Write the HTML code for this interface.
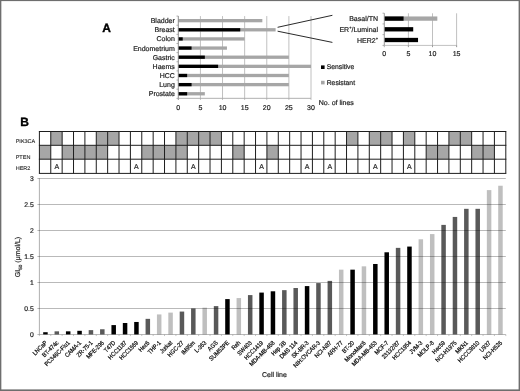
<!DOCTYPE html>
<html><head><meta charset="utf-8"><title>Figure</title>
<style>
html,body{margin:0;padding:0;background:#fff;}
body{width:520px;height:391px;overflow:hidden;}
svg{display:block;font-family:"Liberation Sans",sans-serif;text-rendering:geometricPrecision;}
text{stroke:#222;stroke-width:0.2px;}
text.s{fill:#222;stroke-width:0.1px;}
text.r{fill:#111;stroke:#111;stroke-width:0.22px;}
</style></head><body>
<svg width="520" height="391" viewBox="0 0 520 391">
<rect x="0" y="0" width="520" height="391" fill="#fff"/>
<g id="panelA">
<line x1="200.42" y1="16.08" x2="200.42" y2="99.94" stroke="#ababab" stroke-width="0.75"/>
<line x1="222.53" y1="16.08" x2="222.53" y2="99.94" stroke="#ababab" stroke-width="0.75"/>
<line x1="244.65" y1="16.08" x2="244.65" y2="99.94" stroke="#ababab" stroke-width="0.75"/>
<line x1="266.77" y1="16.08" x2="266.77" y2="99.94" stroke="#ababab" stroke-width="0.75"/>
<line x1="288.88" y1="16.08" x2="288.88" y2="99.94" stroke="#ababab" stroke-width="0.75"/>
<line x1="311.00" y1="16.08" x2="311.00" y2="99.94" stroke="#ababab" stroke-width="0.75"/>
<rect x="178.30" y="19.00" width="84.04" height="3.3" fill="#a6a6a6"/>
<text x="174.8" y="23.15" font-size="7" text-anchor="end" fill="#222">Bladder</text>
<rect x="178.30" y="28.14" width="97.31" height="3.3" fill="#a6a6a6"/>
<rect x="178.30" y="28.14" width="61.93" height="3.3" fill="#000"/>
<text x="174.8" y="32.29" font-size="7" text-anchor="end" fill="#222">Breast</text>
<rect x="178.30" y="37.28" width="66.35" height="3.3" fill="#a6a6a6"/>
<rect x="178.30" y="37.28" width="4.42" height="3.3" fill="#000"/>
<text x="174.8" y="41.43" font-size="7" text-anchor="end" fill="#222">Colon</text>
<rect x="178.30" y="46.42" width="48.66" height="3.3" fill="#a6a6a6"/>
<rect x="178.30" y="46.42" width="13.27" height="3.3" fill="#000"/>
<text x="174.8" y="50.57" font-size="7" text-anchor="end" fill="#222">Endometrium</text>
<rect x="178.30" y="55.56" width="110.58" height="3.3" fill="#a6a6a6"/>
<rect x="178.30" y="55.56" width="26.54" height="3.3" fill="#000"/>
<text x="174.8" y="59.71" font-size="7" text-anchor="end" fill="#222">Gastric</text>
<rect x="178.30" y="64.70" width="132.70" height="3.3" fill="#a6a6a6"/>
<rect x="178.30" y="64.70" width="39.81" height="3.3" fill="#000"/>
<text x="174.8" y="68.85" font-size="7" text-anchor="end" fill="#222">Haems</text>
<rect x="178.30" y="73.84" width="110.58" height="3.3" fill="#a6a6a6"/>
<rect x="178.30" y="73.84" width="8.85" height="3.3" fill="#000"/>
<text x="174.8" y="77.99" font-size="7" text-anchor="end" fill="#222">HCC</text>
<rect x="178.30" y="82.98" width="110.58" height="3.3" fill="#a6a6a6"/>
<rect x="178.30" y="82.98" width="13.27" height="3.3" fill="#000"/>
<text x="174.8" y="87.13" font-size="7" text-anchor="end" fill="#222">Lung</text>
<rect x="178.30" y="92.12" width="26.54" height="3.3" fill="#a6a6a6"/>
<rect x="178.30" y="92.12" width="8.85" height="3.3" fill="#000"/>
<text x="174.8" y="96.27" font-size="7" text-anchor="end" fill="#222">Prostate</text>
<line x1="178.30" y1="16.08" x2="178.30" y2="99.94" stroke="#808080" stroke-width="0.9"/>
<line x1="178.30" y1="98.34" x2="311.00" y2="98.34" stroke="#a8a8a8" stroke-width="0.9"/>
<line x1="176.50" y1="16.08" x2="178.30" y2="16.08" stroke="#8c8c8c" stroke-width="0.7"/>
<line x1="176.50" y1="25.22" x2="178.30" y2="25.22" stroke="#8c8c8c" stroke-width="0.7"/>
<line x1="176.50" y1="34.36" x2="178.30" y2="34.36" stroke="#8c8c8c" stroke-width="0.7"/>
<line x1="176.50" y1="43.50" x2="178.30" y2="43.50" stroke="#8c8c8c" stroke-width="0.7"/>
<line x1="176.50" y1="52.64" x2="178.30" y2="52.64" stroke="#8c8c8c" stroke-width="0.7"/>
<line x1="176.50" y1="61.78" x2="178.30" y2="61.78" stroke="#8c8c8c" stroke-width="0.7"/>
<line x1="176.50" y1="70.92" x2="178.30" y2="70.92" stroke="#8c8c8c" stroke-width="0.7"/>
<line x1="176.50" y1="80.06" x2="178.30" y2="80.06" stroke="#8c8c8c" stroke-width="0.7"/>
<line x1="176.50" y1="89.20" x2="178.30" y2="89.20" stroke="#8c8c8c" stroke-width="0.7"/>
<line x1="176.50" y1="98.34" x2="178.30" y2="98.34" stroke="#8c8c8c" stroke-width="0.7"/>
<text x="178.30" y="109.5" font-size="7" text-anchor="middle" fill="#222">0</text>
<text x="200.42" y="109.5" font-size="7" text-anchor="middle" fill="#222">5</text>
<text x="222.53" y="109.5" font-size="7" text-anchor="middle" fill="#222">10</text>
<text x="244.65" y="109.5" font-size="7" text-anchor="middle" fill="#222">15</text>
<text x="266.77" y="109.5" font-size="7" text-anchor="middle" fill="#222">20</text>
<text x="288.88" y="109.5" font-size="7" text-anchor="middle" fill="#222">25</text>
<text x="311.00" y="109.5" font-size="7" text-anchor="middle" fill="#222">30</text>
<text x="318.8" y="105.4" font-size="7" fill="#222">No. of lines</text>
<rect x="321" y="65.4" width="3.6" height="3.6" fill="#000"/>
<text x="326.7" y="69.4" font-size="6.8" fill="#222">Sensitive</text>
<rect x="321" y="80.8" width="3.6" height="3.6" fill="#a6a6a6"/>
<text x="326.7" y="84.7" font-size="6.8" fill="#222">Resistant</text>
<line x1="277.6" y1="27.3" x2="332.4" y2="15.3" stroke="#2a2a2a" stroke-width="1"/>
<line x1="277.6" y1="31.2" x2="332.4" y2="42.4" stroke="#2a2a2a" stroke-width="1"/>
<line x1="408.40" y1="13.3" x2="408.40" y2="47" stroke="#ababab" stroke-width="0.75"/>
<line x1="432.50" y1="13.3" x2="432.50" y2="47" stroke="#ababab" stroke-width="0.75"/>
<line x1="456.60" y1="13.3" x2="456.60" y2="47" stroke="#ababab" stroke-width="0.75"/>
<rect x="384.30" y="16.45" width="53.02" height="4.3" fill="#a6a6a6"/>
<rect x="384.30" y="16.45" width="19.28" height="4.3" fill="#000"/>
<text x="378" y="21.10" font-size="7" text-anchor="end" fill="#222">Basal/TN</text>
<rect x="384.30" y="27.15" width="28.92" height="4.3" fill="#000"/>
<text x="378" y="31.80" font-size="7" text-anchor="end" fill="#222">ER<tspan font-size="4" dy="-2.6">+</tspan><tspan dy="2.6">/Luminal</tspan></text>
<rect x="384.30" y="37.85" width="33.74" height="4.3" fill="#000"/>
<text x="378" y="42.50" font-size="7" text-anchor="end" fill="#222">HER2<tspan font-size="4" dy="-2.6">+</tspan></text>
<line x1="384.30" y1="13.2" x2="384.30" y2="45.4" stroke="#8c8c8c" stroke-width="0.9"/>
<line x1="384.30" y1="45.4" x2="456.60" y2="45.4" stroke="#ababab" stroke-width="0.75"/>
<line x1="382.50" y1="13.20" x2="384.30" y2="13.20" stroke="#8c8c8c" stroke-width="0.7"/>
<line x1="382.50" y1="23.93" x2="384.30" y2="23.93" stroke="#8c8c8c" stroke-width="0.7"/>
<line x1="382.50" y1="34.67" x2="384.30" y2="34.67" stroke="#8c8c8c" stroke-width="0.7"/>
<line x1="382.50" y1="45.40" x2="384.30" y2="45.40" stroke="#8c8c8c" stroke-width="0.7"/>
<line x1="384.30" y1="45.4" x2="384.30" y2="47.2" stroke="#8c8c8c" stroke-width="0.7"/>
<text x="384.30" y="56.1" font-size="7" text-anchor="middle" fill="#222">0</text>
<line x1="408.40" y1="45.4" x2="408.40" y2="47.2" stroke="#8c8c8c" stroke-width="0.7"/>
<text x="408.40" y="56.1" font-size="7" text-anchor="middle" fill="#222">5</text>
<line x1="432.50" y1="45.4" x2="432.50" y2="47.2" stroke="#8c8c8c" stroke-width="0.7"/>
<text x="432.50" y="56.1" font-size="7" text-anchor="middle" fill="#222">10</text>
<line x1="456.60" y1="45.4" x2="456.60" y2="47.2" stroke="#8c8c8c" stroke-width="0.7"/>
<text x="456.60" y="56.1" font-size="7" text-anchor="middle" fill="#222">15</text>
<text x="102.3" y="32" font-size="12" font-weight="bold" style="fill:#000;stroke:#000;stroke-width:0.35px">A</text>
</g>
<g id="panelB">
<text x="20.2" y="125.7" font-size="12" font-weight="bold" style="fill:#000;stroke:#000;stroke-width:0.35px">B</text>
<rect x="50.78" y="131.5" width="11.38" height="13.80" fill="#a6a6a6"/>
<rect x="96.28" y="131.5" width="11.38" height="13.80" fill="#a6a6a6"/>
<rect x="107.65" y="131.5" width="11.38" height="13.80" fill="#a6a6a6"/>
<rect x="175.91" y="131.5" width="11.38" height="13.80" fill="#a6a6a6"/>
<rect x="187.28" y="131.5" width="11.38" height="13.80" fill="#a6a6a6"/>
<rect x="198.66" y="131.5" width="11.38" height="13.80" fill="#a6a6a6"/>
<rect x="210.03" y="131.5" width="11.38" height="13.80" fill="#a6a6a6"/>
<rect x="346.54" y="131.5" width="11.38" height="13.80" fill="#a6a6a6"/>
<rect x="369.29" y="131.5" width="11.38" height="13.80" fill="#a6a6a6"/>
<rect x="380.67" y="131.5" width="11.38" height="13.80" fill="#a6a6a6"/>
<rect x="403.42" y="131.5" width="11.38" height="13.80" fill="#a6a6a6"/>
<rect x="448.92" y="131.5" width="11.38" height="13.80" fill="#a6a6a6"/>
<rect x="460.30" y="131.5" width="11.38" height="13.80" fill="#a6a6a6"/>
<rect x="39.40" y="145.3" width="11.38" height="13.90" fill="#a6a6a6"/>
<rect x="62.15" y="145.3" width="11.38" height="13.90" fill="#a6a6a6"/>
<rect x="73.53" y="145.3" width="11.38" height="13.90" fill="#a6a6a6"/>
<rect x="84.90" y="145.3" width="11.38" height="13.90" fill="#a6a6a6"/>
<rect x="96.28" y="145.3" width="11.38" height="13.90" fill="#a6a6a6"/>
<rect x="141.78" y="145.3" width="11.38" height="13.90" fill="#a6a6a6"/>
<rect x="153.16" y="145.3" width="11.38" height="13.90" fill="#a6a6a6"/>
<rect x="164.53" y="145.3" width="11.38" height="13.90" fill="#a6a6a6"/>
<rect x="175.91" y="145.3" width="11.38" height="13.90" fill="#a6a6a6"/>
<rect x="232.79" y="145.3" width="11.38" height="13.90" fill="#a6a6a6"/>
<rect x="266.91" y="145.3" width="11.38" height="13.90" fill="#a6a6a6"/>
<rect x="426.17" y="145.3" width="11.38" height="13.90" fill="#a6a6a6"/>
<rect x="437.55" y="145.3" width="11.38" height="13.90" fill="#a6a6a6"/>
<rect x="471.67" y="145.3" width="11.38" height="13.90" fill="#a6a6a6"/>
<rect x="483.05" y="145.3" width="11.38" height="13.90" fill="#a6a6a6"/>
<text x="56.76" y="169.4" font-size="7" text-anchor="middle" fill="#222">A</text>
<text x="136.39" y="169.4" font-size="7" text-anchor="middle" fill="#222">A</text>
<text x="193.27" y="169.4" font-size="7" text-anchor="middle" fill="#222">A</text>
<text x="261.52" y="169.4" font-size="7" text-anchor="middle" fill="#222">A</text>
<text x="307.03" y="169.4" font-size="7" text-anchor="middle" fill="#222">A</text>
<text x="329.78" y="169.4" font-size="7" text-anchor="middle" fill="#222">A</text>
<text x="375.28" y="169.4" font-size="7" text-anchor="middle" fill="#222">A</text>
<text x="409.41" y="169.4" font-size="7" text-anchor="middle" fill="#222">A</text>
<path d="M39.40 131.5V173.4M50.78 131.5V173.4M62.15 131.5V173.4M73.53 131.5V173.4M84.90 131.5V173.4M96.28 131.5V173.4M107.65 131.5V173.4M119.03 131.5V173.4M130.40 131.5V173.4M141.78 131.5V173.4M153.16 131.5V173.4M164.53 131.5V173.4M175.91 131.5V173.4M187.28 131.5V173.4M198.66 131.5V173.4M210.03 131.5V173.4M221.41 131.5V173.4M232.79 131.5V173.4M244.16 131.5V173.4M255.54 131.5V173.4M266.91 131.5V173.4M278.29 131.5V173.4M289.66 131.5V173.4M301.04 131.5V173.4M312.41 131.5V173.4M323.79 131.5V173.4M335.17 131.5V173.4M346.54 131.5V173.4M357.92 131.5V173.4M369.29 131.5V173.4M380.67 131.5V173.4M392.04 131.5V173.4M403.42 131.5V173.4M414.80 131.5V173.4M426.17 131.5V173.4M437.55 131.5V173.4M448.92 131.5V173.4M460.30 131.5V173.4M471.67 131.5V173.4M483.05 131.5V173.4M494.42 131.5V173.4M505.80 131.5V173.4M38.90 131.5H506.30M38.90 145.3H506.30M38.90 159.2H506.30M38.90 173.4H506.30" stroke="#1e1e1e" stroke-width="1" fill="none"/>
<text x="15.7" y="142.6" font-size="5.5" class="s">PIK3CA</text>
<text x="15.7" y="158.5" font-size="5.5" class="s">PTEN</text>
<text x="15.7" y="170.1" font-size="5.5" class="s">HER2</text>
<line x1="39.40" y1="178.45" x2="39.40" y2="334.45" stroke="#9a9a9a" stroke-width="0.8"/>
<rect x="43.19" y="332.21" width="4.5" height="2.24" fill="#000"/>
<rect x="54.56" y="331.33" width="4.5" height="3.12" fill="#595959"/>
<rect x="65.94" y="331.33" width="4.5" height="3.12" fill="#000"/>
<rect x="77.31" y="330.81" width="4.5" height="3.64" fill="#000"/>
<rect x="88.69" y="330.13" width="4.5" height="4.32" fill="#595959"/>
<rect x="100.07" y="329.25" width="4.5" height="5.20" fill="#595959"/>
<rect x="111.44" y="325.09" width="4.5" height="9.36" fill="#000"/>
<rect x="122.82" y="323.01" width="4.5" height="11.44" fill="#000"/>
<rect x="134.19" y="321.97" width="4.5" height="12.48" fill="#000"/>
<rect x="145.57" y="318.85" width="4.5" height="15.60" fill="#595959"/>
<rect x="156.94" y="314.43" width="4.5" height="20.02" fill="#bfbfbf"/>
<rect x="168.32" y="312.61" width="4.5" height="21.84" fill="#bfbfbf"/>
<rect x="179.70" y="311.57" width="4.5" height="22.88" fill="#595959"/>
<rect x="191.07" y="308.45" width="4.5" height="26.00" fill="#595959"/>
<rect x="202.45" y="307.67" width="4.5" height="26.78" fill="#bfbfbf"/>
<rect x="213.82" y="306.11" width="4.5" height="28.34" fill="#595959"/>
<rect x="225.20" y="299.09" width="4.5" height="35.36" fill="#000"/>
<rect x="236.57" y="298.05" width="4.5" height="36.40" fill="#bfbfbf"/>
<rect x="247.95" y="295.09" width="4.5" height="39.36" fill="#595959"/>
<rect x="259.32" y="292.59" width="4.5" height="41.86" fill="#000"/>
<rect x="270.70" y="291.29" width="4.5" height="43.16" fill="#000"/>
<rect x="282.08" y="290.15" width="4.5" height="44.30" fill="#595959"/>
<rect x="293.45" y="288.01" width="4.5" height="46.44" fill="#595959"/>
<rect x="304.83" y="286.09" width="4.5" height="48.36" fill="#000"/>
<rect x="316.20" y="283.07" width="4.5" height="51.38" fill="#595959"/>
<rect x="327.58" y="280.89" width="4.5" height="53.56" fill="#595959"/>
<rect x="338.95" y="269.66" width="4.5" height="64.79" fill="#bfbfbf"/>
<rect x="350.33" y="269.66" width="4.5" height="64.79" fill="#000"/>
<rect x="361.70" y="266.33" width="4.5" height="68.12" fill="#bfbfbf"/>
<rect x="373.08" y="263.99" width="4.5" height="70.46" fill="#000"/>
<rect x="384.46" y="252.29" width="4.5" height="82.16" fill="#000"/>
<rect x="395.83" y="247.87" width="4.5" height="86.58" fill="#595959"/>
<rect x="407.21" y="246.57" width="4.5" height="87.88" fill="#000"/>
<rect x="418.58" y="239.29" width="4.5" height="95.16" fill="#bfbfbf"/>
<rect x="429.96" y="234.09" width="4.5" height="100.36" fill="#bfbfbf"/>
<rect x="441.33" y="224.89" width="4.5" height="109.56" fill="#595959"/>
<rect x="452.71" y="216.93" width="4.5" height="117.52" fill="#595959"/>
<rect x="464.09" y="208.82" width="4.5" height="125.63" fill="#595959"/>
<rect x="475.46" y="208.82" width="4.5" height="125.63" fill="#595959"/>
<rect x="486.84" y="190.10" width="4.5" height="144.35" fill="#bfbfbf"/>
<rect x="498.21" y="185.73" width="4.5" height="148.72" fill="#bfbfbf"/>
<line x1="37.4" y1="334.45" x2="505.80" y2="334.45" stroke="#a2a2a2" stroke-width="0.8" style="mix-blend-mode:multiply"/>
<text x="33.7" y="336.90" font-size="6.8" text-anchor="end" fill="#222">0</text>
<line x1="37.4" y1="308.45" x2="505.80" y2="308.45" stroke="#a2a2a2" stroke-width="0.8" style="mix-blend-mode:multiply"/>
<text x="33.7" y="310.90" font-size="6.8" text-anchor="end" fill="#222">0.5</text>
<line x1="37.4" y1="282.45" x2="505.80" y2="282.45" stroke="#a2a2a2" stroke-width="0.8" style="mix-blend-mode:multiply"/>
<text x="33.7" y="284.90" font-size="6.8" text-anchor="end" fill="#222">1</text>
<line x1="37.4" y1="256.45" x2="505.80" y2="256.45" stroke="#a2a2a2" stroke-width="0.8" style="mix-blend-mode:multiply"/>
<text x="33.7" y="258.90" font-size="6.8" text-anchor="end" fill="#222">1.5</text>
<line x1="37.4" y1="230.45" x2="505.80" y2="230.45" stroke="#a2a2a2" stroke-width="0.8" style="mix-blend-mode:multiply"/>
<text x="33.7" y="232.90" font-size="6.8" text-anchor="end" fill="#222">2</text>
<line x1="37.4" y1="204.45" x2="505.80" y2="204.45" stroke="#a2a2a2" stroke-width="0.8" style="mix-blend-mode:multiply"/>
<text x="33.7" y="206.90" font-size="6.8" text-anchor="end" fill="#222">2.5</text>
<line x1="37.4" y1="178.45" x2="505.80" y2="178.45" stroke="#a2a2a2" stroke-width="0.8" style="mix-blend-mode:multiply"/>
<text x="33.7" y="180.90" font-size="6.8" text-anchor="end" fill="#222">3</text>
<line x1="39.40" y1="334.45" x2="39.40" y2="336.05" stroke="#9a9a9a" stroke-width="0.6"/>
<line x1="50.78" y1="334.45" x2="50.78" y2="336.05" stroke="#9a9a9a" stroke-width="0.6"/>
<line x1="62.15" y1="334.45" x2="62.15" y2="336.05" stroke="#9a9a9a" stroke-width="0.6"/>
<line x1="73.53" y1="334.45" x2="73.53" y2="336.05" stroke="#9a9a9a" stroke-width="0.6"/>
<line x1="84.90" y1="334.45" x2="84.90" y2="336.05" stroke="#9a9a9a" stroke-width="0.6"/>
<line x1="96.28" y1="334.45" x2="96.28" y2="336.05" stroke="#9a9a9a" stroke-width="0.6"/>
<line x1="107.65" y1="334.45" x2="107.65" y2="336.05" stroke="#9a9a9a" stroke-width="0.6"/>
<line x1="119.03" y1="334.45" x2="119.03" y2="336.05" stroke="#9a9a9a" stroke-width="0.6"/>
<line x1="130.40" y1="334.45" x2="130.40" y2="336.05" stroke="#9a9a9a" stroke-width="0.6"/>
<line x1="141.78" y1="334.45" x2="141.78" y2="336.05" stroke="#9a9a9a" stroke-width="0.6"/>
<line x1="153.16" y1="334.45" x2="153.16" y2="336.05" stroke="#9a9a9a" stroke-width="0.6"/>
<line x1="164.53" y1="334.45" x2="164.53" y2="336.05" stroke="#9a9a9a" stroke-width="0.6"/>
<line x1="175.91" y1="334.45" x2="175.91" y2="336.05" stroke="#9a9a9a" stroke-width="0.6"/>
<line x1="187.28" y1="334.45" x2="187.28" y2="336.05" stroke="#9a9a9a" stroke-width="0.6"/>
<line x1="198.66" y1="334.45" x2="198.66" y2="336.05" stroke="#9a9a9a" stroke-width="0.6"/>
<line x1="210.03" y1="334.45" x2="210.03" y2="336.05" stroke="#9a9a9a" stroke-width="0.6"/>
<line x1="221.41" y1="334.45" x2="221.41" y2="336.05" stroke="#9a9a9a" stroke-width="0.6"/>
<line x1="232.79" y1="334.45" x2="232.79" y2="336.05" stroke="#9a9a9a" stroke-width="0.6"/>
<line x1="244.16" y1="334.45" x2="244.16" y2="336.05" stroke="#9a9a9a" stroke-width="0.6"/>
<line x1="255.54" y1="334.45" x2="255.54" y2="336.05" stroke="#9a9a9a" stroke-width="0.6"/>
<line x1="266.91" y1="334.45" x2="266.91" y2="336.05" stroke="#9a9a9a" stroke-width="0.6"/>
<line x1="278.29" y1="334.45" x2="278.29" y2="336.05" stroke="#9a9a9a" stroke-width="0.6"/>
<line x1="289.66" y1="334.45" x2="289.66" y2="336.05" stroke="#9a9a9a" stroke-width="0.6"/>
<line x1="301.04" y1="334.45" x2="301.04" y2="336.05" stroke="#9a9a9a" stroke-width="0.6"/>
<line x1="312.41" y1="334.45" x2="312.41" y2="336.05" stroke="#9a9a9a" stroke-width="0.6"/>
<line x1="323.79" y1="334.45" x2="323.79" y2="336.05" stroke="#9a9a9a" stroke-width="0.6"/>
<line x1="335.17" y1="334.45" x2="335.17" y2="336.05" stroke="#9a9a9a" stroke-width="0.6"/>
<line x1="346.54" y1="334.45" x2="346.54" y2="336.05" stroke="#9a9a9a" stroke-width="0.6"/>
<line x1="357.92" y1="334.45" x2="357.92" y2="336.05" stroke="#9a9a9a" stroke-width="0.6"/>
<line x1="369.29" y1="334.45" x2="369.29" y2="336.05" stroke="#9a9a9a" stroke-width="0.6"/>
<line x1="380.67" y1="334.45" x2="380.67" y2="336.05" stroke="#9a9a9a" stroke-width="0.6"/>
<line x1="392.04" y1="334.45" x2="392.04" y2="336.05" stroke="#9a9a9a" stroke-width="0.6"/>
<line x1="403.42" y1="334.45" x2="403.42" y2="336.05" stroke="#9a9a9a" stroke-width="0.6"/>
<line x1="414.80" y1="334.45" x2="414.80" y2="336.05" stroke="#9a9a9a" stroke-width="0.6"/>
<line x1="426.17" y1="334.45" x2="426.17" y2="336.05" stroke="#9a9a9a" stroke-width="0.6"/>
<line x1="437.55" y1="334.45" x2="437.55" y2="336.05" stroke="#9a9a9a" stroke-width="0.6"/>
<line x1="448.92" y1="334.45" x2="448.92" y2="336.05" stroke="#9a9a9a" stroke-width="0.6"/>
<line x1="460.30" y1="334.45" x2="460.30" y2="336.05" stroke="#9a9a9a" stroke-width="0.6"/>
<line x1="471.67" y1="334.45" x2="471.67" y2="336.05" stroke="#9a9a9a" stroke-width="0.6"/>
<line x1="483.05" y1="334.45" x2="483.05" y2="336.05" stroke="#9a9a9a" stroke-width="0.6"/>
<line x1="494.42" y1="334.45" x2="494.42" y2="336.05" stroke="#9a9a9a" stroke-width="0.6"/>
<line x1="505.80" y1="334.45" x2="505.80" y2="336.05" stroke="#9a9a9a" stroke-width="0.6"/>
<text transform="translate(47.59 343.25) rotate(-45) scale(0.88 1)" font-size="6.2" text-anchor="end" class="r">LNCaP</text>
<text transform="translate(58.96 343.25) rotate(-45) scale(0.88 1)" font-size="6.2" text-anchor="end" class="r">BT-474c</text>
<text transform="translate(70.34 343.25) rotate(-45) scale(0.88 1)" font-size="6.2" text-anchor="end" class="r">PC346C-Flu1</text>
<text transform="translate(81.71 343.25) rotate(-45) scale(0.88 1)" font-size="6.2" text-anchor="end" class="r">CAMA-1</text>
<text transform="translate(93.09 343.25) rotate(-45) scale(0.88 1)" font-size="6.2" text-anchor="end" class="r">ZR-75-1</text>
<text transform="translate(104.47 343.25) rotate(-45) scale(0.88 1)" font-size="6.2" text-anchor="end" class="r">MFE-296</text>
<text transform="translate(115.84 343.25) rotate(-45) scale(0.88 1)" font-size="6.2" text-anchor="end" class="r">T47D</text>
<text transform="translate(127.22 343.25) rotate(-45) scale(0.88 1)" font-size="6.2" text-anchor="end" class="r">HCC1187</text>
<text transform="translate(138.59 343.25) rotate(-45) scale(0.88 1)" font-size="6.2" text-anchor="end" class="r">HCC1569</text>
<text transform="translate(149.97 343.25) rotate(-45) scale(0.88 1)" font-size="6.2" text-anchor="end" class="r">Hec6</text>
<text transform="translate(161.34 343.25) rotate(-45) scale(0.88 1)" font-size="6.2" text-anchor="end" class="r">THP-1</text>
<text transform="translate(172.72 343.25) rotate(-45) scale(0.88 1)" font-size="6.2" text-anchor="end" class="r">Jurkat</text>
<text transform="translate(184.10 343.25) rotate(-45) scale(0.88 1)" font-size="6.2" text-anchor="end" class="r">HGC-27</text>
<text transform="translate(195.47 343.25) rotate(-45) scale(0.88 1)" font-size="6.2" text-anchor="end" class="r">IM95m</text>
<text transform="translate(206.85 343.25) rotate(-45) scale(0.88 1)" font-size="6.2" text-anchor="end" class="r">L-363</text>
<text transform="translate(218.22 343.25) rotate(-45) scale(0.88 1)" font-size="6.2" text-anchor="end" class="r">AGS</text>
<text transform="translate(229.60 343.25) rotate(-45) scale(0.88 1)" font-size="6.2" text-anchor="end" class="r">SUM52PE</text>
<text transform="translate(240.97 343.25) rotate(-45) scale(0.88 1)" font-size="6.2" text-anchor="end" class="r">Reh</text>
<text transform="translate(252.35 343.25) rotate(-45) scale(0.88 1)" font-size="6.2" text-anchor="end" class="r">SW403</text>
<text transform="translate(263.72 343.25) rotate(-45) scale(0.88 1)" font-size="6.2" text-anchor="end" class="r">HCC1419</text>
<text transform="translate(275.10 343.25) rotate(-45) scale(0.88 1)" font-size="6.2" text-anchor="end" class="r">MDA-MB-468</text>
<text transform="translate(286.48 343.25) rotate(-45) scale(0.88 1)" font-size="6.2" text-anchor="end" class="r">Hep 3B</text>
<text transform="translate(297.85 343.25) rotate(-45) scale(0.88 1)" font-size="6.2" text-anchor="end" class="r">DMS 114</text>
<text transform="translate(309.23 343.25) rotate(-45) scale(0.88 1)" font-size="6.2" text-anchor="end" class="r">SK-BR-3</text>
<text transform="translate(320.60 343.25) rotate(-45) scale(0.88 1)" font-size="6.2" text-anchor="end" class="r">NIH:OVCAR-3</text>
<text transform="translate(331.98 343.25) rotate(-45) scale(0.88 1)" font-size="6.2" text-anchor="end" class="r">NCI-N87</text>
<text transform="translate(343.35 343.25) rotate(-45) scale(0.88 1)" font-size="6.2" text-anchor="end" class="r">ARH-77</text>
<text transform="translate(354.73 343.25) rotate(-45) scale(0.88 1)" font-size="6.2" text-anchor="end" class="r">BT-20</text>
<text transform="translate(366.10 343.25) rotate(-45) scale(0.88 1)" font-size="6.2" text-anchor="end" class="r">MonoMac6</text>
<text transform="translate(377.48 343.25) rotate(-45) scale(0.88 1)" font-size="6.2" text-anchor="end" class="r">MDA-MB-453</text>
<text transform="translate(388.86 343.25) rotate(-45) scale(0.88 1)" font-size="6.2" text-anchor="end" class="r">MCF-7</text>
<text transform="translate(400.23 343.25) rotate(-45) scale(0.88 1)" font-size="6.2" text-anchor="end" class="r">23132/87</text>
<text transform="translate(411.61 343.25) rotate(-45) scale(0.88 1)" font-size="6.2" text-anchor="end" class="r">HCC1954</text>
<text transform="translate(422.98 343.25) rotate(-45) scale(0.88 1)" font-size="6.2" text-anchor="end" class="r">JVM-3</text>
<text transform="translate(434.36 343.25) rotate(-45) scale(0.88 1)" font-size="6.2" text-anchor="end" class="r">MOLP-8</text>
<text transform="translate(445.73 343.25) rotate(-45) scale(0.88 1)" font-size="6.2" text-anchor="end" class="r">Hec59</text>
<text transform="translate(457.11 343.25) rotate(-45) scale(0.88 1)" font-size="6.2" text-anchor="end" class="r">NCI-H1975</text>
<text transform="translate(468.49 343.25) rotate(-45) scale(0.88 1)" font-size="6.2" text-anchor="end" class="r">MKN1</text>
<text transform="translate(479.86 343.25) rotate(-45) scale(0.88 1)" font-size="6.2" text-anchor="end" class="r">HCCC9810</text>
<text transform="translate(491.24 343.25) rotate(-45) scale(0.88 1)" font-size="6.2" text-anchor="end" class="r">U937</text>
<text transform="translate(502.61 343.25) rotate(-45) scale(0.88 1)" font-size="6.2" text-anchor="end" class="r">NCI-H526</text>
<text x="262" y="376.9" font-size="7" fill="#222">Cell line</text>
<text transform="translate(20.4 257) rotate(-90)" font-size="7" text-anchor="middle" fill="#222">GI<tspan font-size="4.6" dy="1.6">50</tspan><tspan dy="-1.6"> (μmol/L)</tspan></text>
</g>
<rect x="0" y="0" width="520" height="1.1" fill="#6e6e6e"/>
<rect x="0" y="0" width="1.35" height="391" fill="#6e6e6e"/>
<rect x="518.6" y="0" width="1.4" height="391" fill="#6e6e6e"/>
<rect x="0" y="389.4" width="520" height="1.6" fill="#6e6e6e"/>
</svg>
</body></html>
